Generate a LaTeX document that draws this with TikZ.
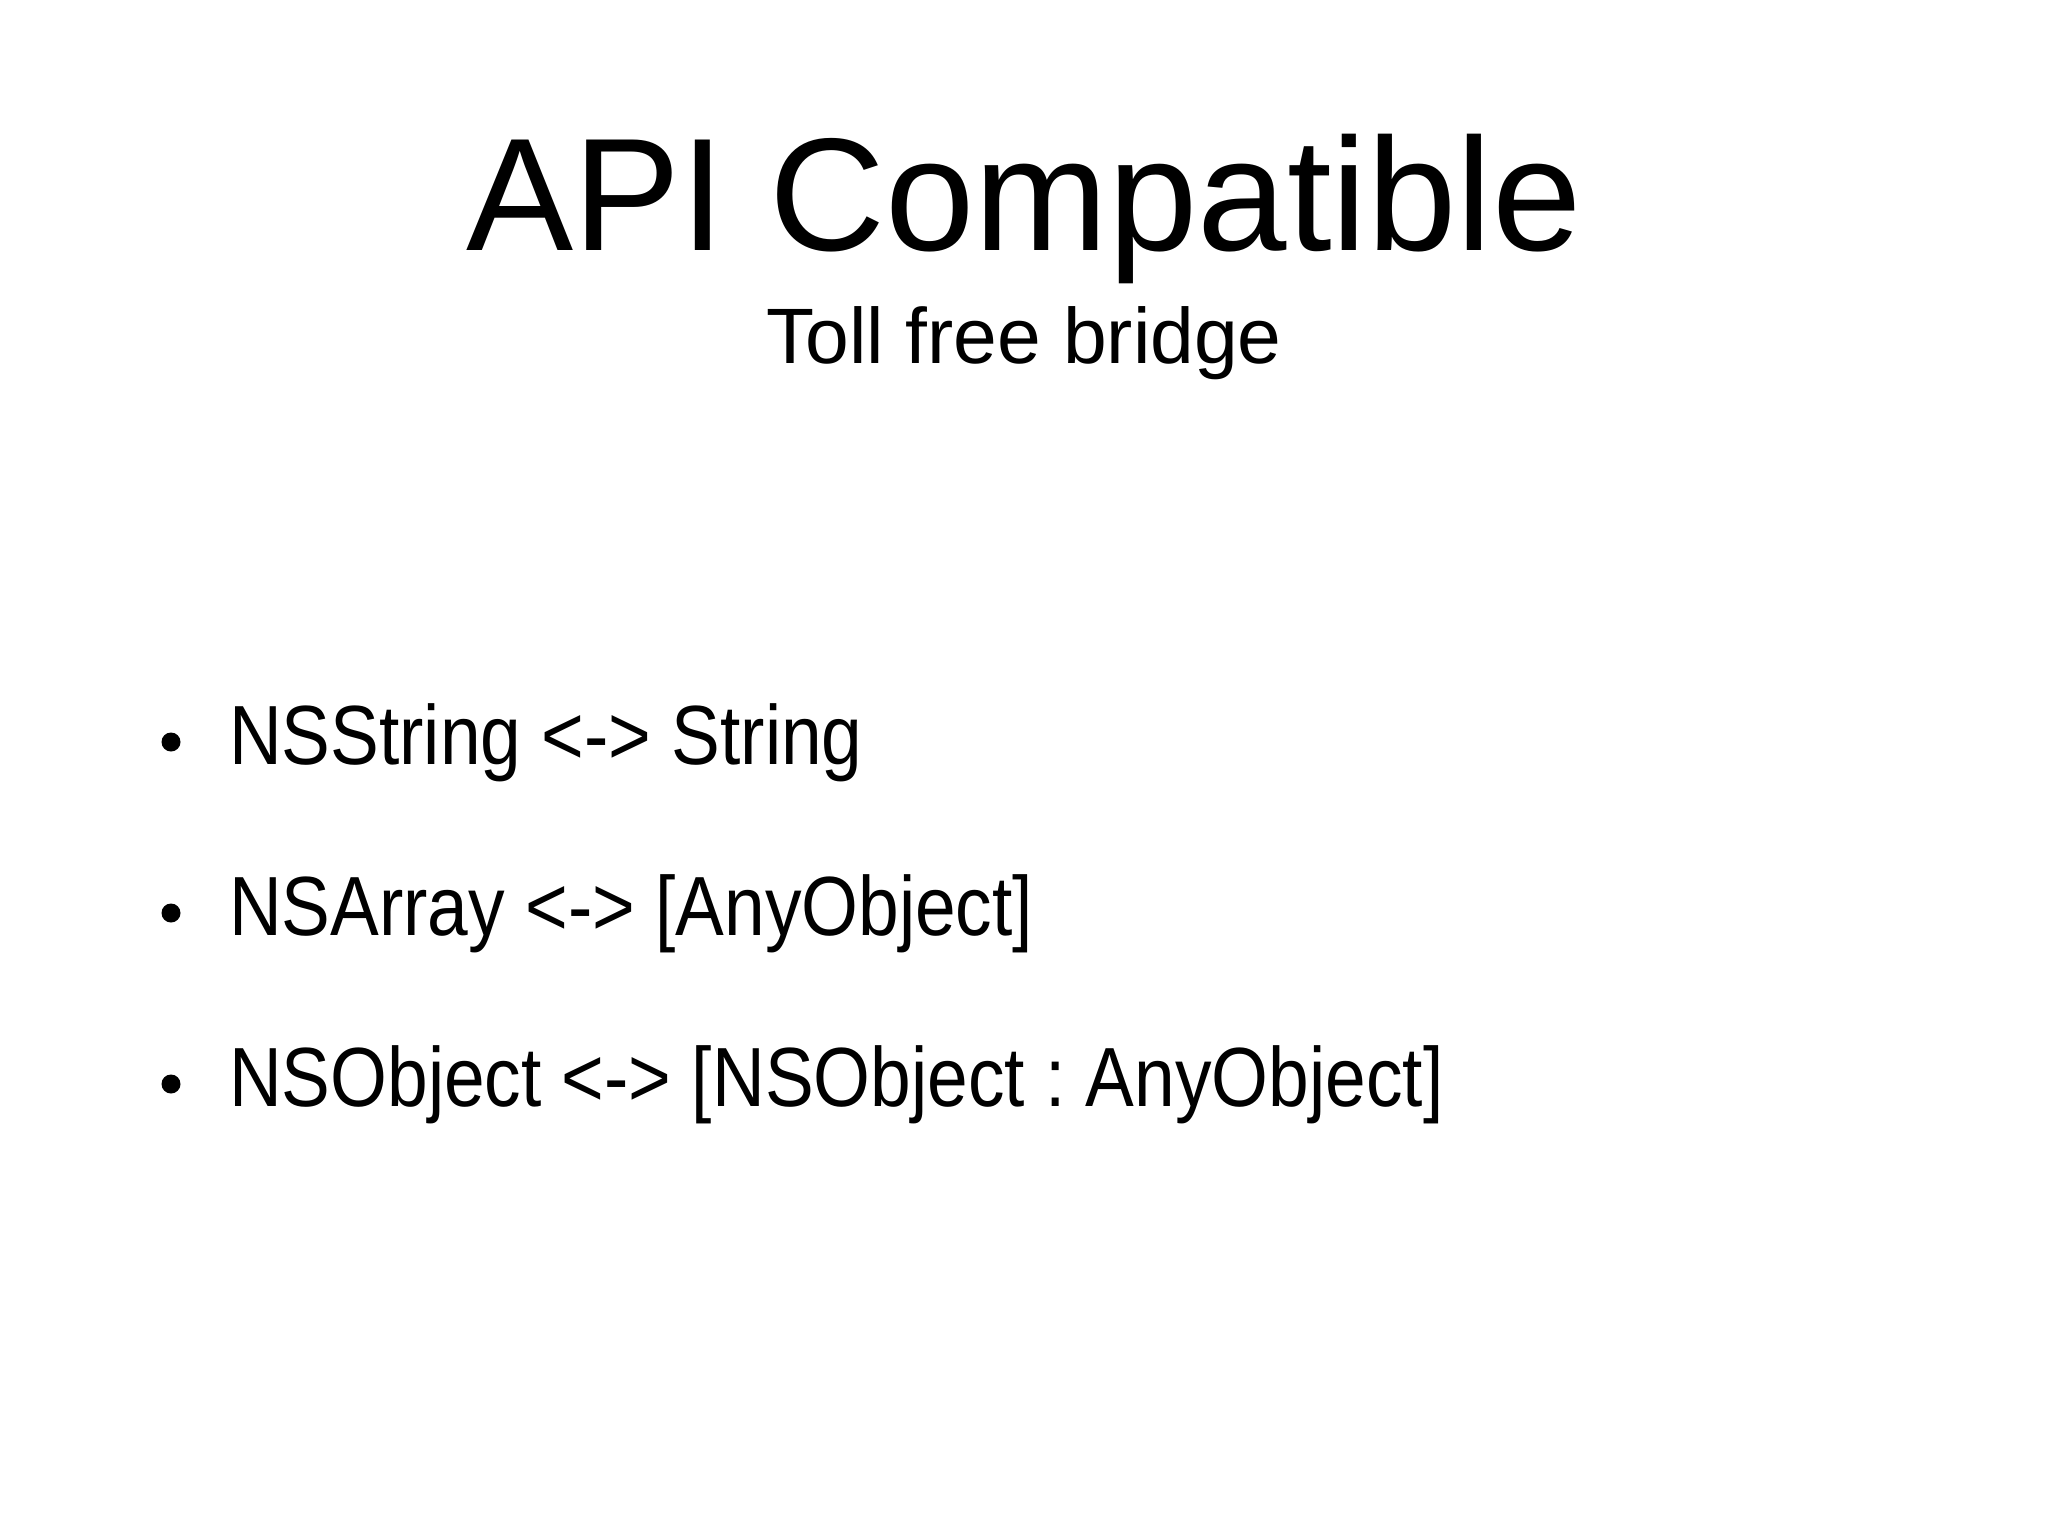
\documentclass[tikz,border=0pt]{standalone}
\usepackage{fontspec}
\usepackage{graphicx}
\setmainfont{Liberation Sans}
\frenchspacing
\newcommand{\narrowtext}[1]{\scalebox{0.87}[1]{#1}}
\begin{document}
\begin{tikzpicture}[x=1pt,y=1pt,
  txt/.style={inner sep=0pt, outer sep=0pt, text=black},
  titletext/.style={txt, anchor=base, font=\fontsize{80.3}{96}\selectfont},
  subtext/.style={txt, anchor=base, font=\fontsize{39.3}{46}\selectfont},
  itemtext/.style={txt, anchor=base west, font=\fontsize{42}{50}\selectfont},
  bulletdot/.style={circle, fill=black, inner sep=0pt, minimum size=9.5pt}]
\useasboundingbox[fill=white] (0,0) rectangle (1024,-768);
\node[titletext] (title) at (512,-125) {API Compatible};
\node[subtext] (sub) at (512,-181.5) {Toll free bridge};
\node[itemtext] (i1) at (114.5,-382) {\narrowtext{NSString <-> String}};
\node[itemtext] (i2) at (114.5,-467.5) {\narrowtext{NSArray <-> [AnyObject]}};
\node[itemtext] (i3) at (114.5,-553) {\narrowtext{NSObject <-> [NSObject : AnyObject]}};
\node[bulletdot] (b1) at (85.5,-371) {};
\node[bulletdot] (b2) at (85.5,-456.5) {};
\node[bulletdot] (b3) at (85.5,-542) {};
\end{tikzpicture}
\end{document}
